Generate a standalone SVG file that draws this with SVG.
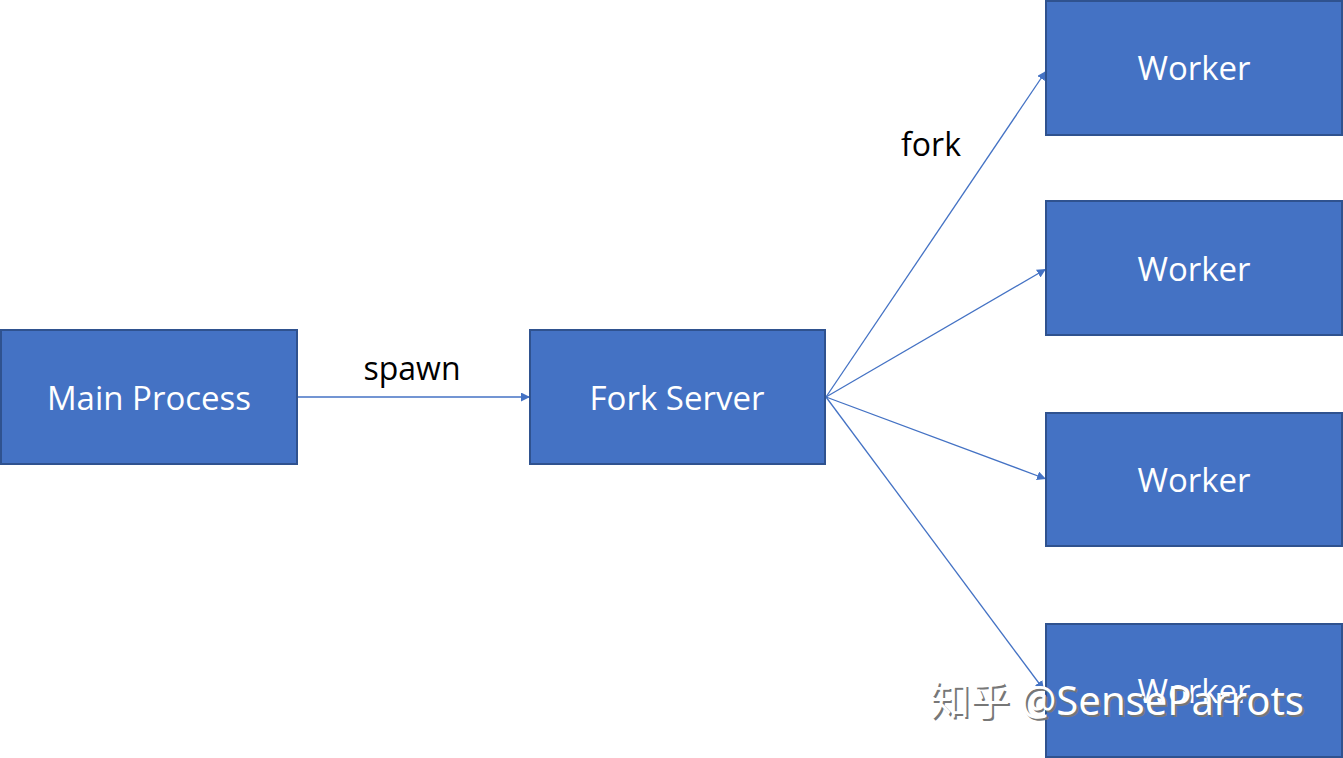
<svg xmlns="http://www.w3.org/2000/svg" width="1343" height="758" viewBox="0 0 1343 758">
<style>
.box{fill:#4472C4;stroke:#2F528F;stroke-width:2}
.t{fill:#fff;font-family:"Open Sans","Noto Sans",sans-serif;font-size:33px;text-anchor:middle}
.lbl{fill:#000;font-family:"Open Sans","Noto Sans",sans-serif;font-size:32px;text-anchor:middle}
.c{stroke:#4472C4;stroke-width:1.3;fill:none;marker-end:url(#a)}
.wm{font-family:"Noto Sans","Noto Sans CJK SC",sans-serif;font-size:40px}
</style>
<defs><marker id="a" viewBox="0 0 10 10" refX="10" refY="5" markerWidth="9" markerHeight="9" markerUnits="userSpaceOnUse" orient="auto"><path d="M0,0L10,5L0,10z" fill="#4472C4"/></marker></defs>
<rect width="1343" height="758" fill="#fff"/>
<g id="connectors">
<path class="c" d="M297,397H530"/>
<path class="c" d="M826,397L1046,71"/>
<path class="c" d="M826,397L1046,269"/>
<path class="c" d="M826,397L1046,479"/>
<path class="c" d="M826,397L1044,690"/>
<text class="lbl" x="412" y="380">spawn</text>
<text class="lbl" x="931" y="156">fork</text>
</g>
<g id="main"><rect class="box" x="1" y="330" width="296" height="134"/><text class="t" x="149" y="410">Main Process</text></g>
<g id="fork"><rect class="box" x="530" y="330" width="295" height="134"/><text class="t" x="677" y="410">Fork Server</text></g>
<g id="w1"><rect class="box" x="1046" y="1" width="296" height="134"/><text class="t" x="1194" y="80">Worker</text></g>
<g id="w2"><rect class="box" x="1046" y="201" width="296" height="134"/><text class="t" x="1194" y="281">Worker</text></g>
<g id="w3"><rect class="box" x="1046" y="413" width="296" height="133"/><text class="t" x="1194" y="492">Worker</text></g>
<g id="w4"><rect class="box" x="1046" y="624" width="296" height="133"/><text class="t" x="1194" y="703">Worker</text></g>
<g id="watermark">
<text class="wm" x="932" y="717" fill="#777">知乎 @SenseParrots</text>
<text class="wm" x="930" y="715" fill="#fff">知乎 @SenseParrots</text>
</g>
</svg>
